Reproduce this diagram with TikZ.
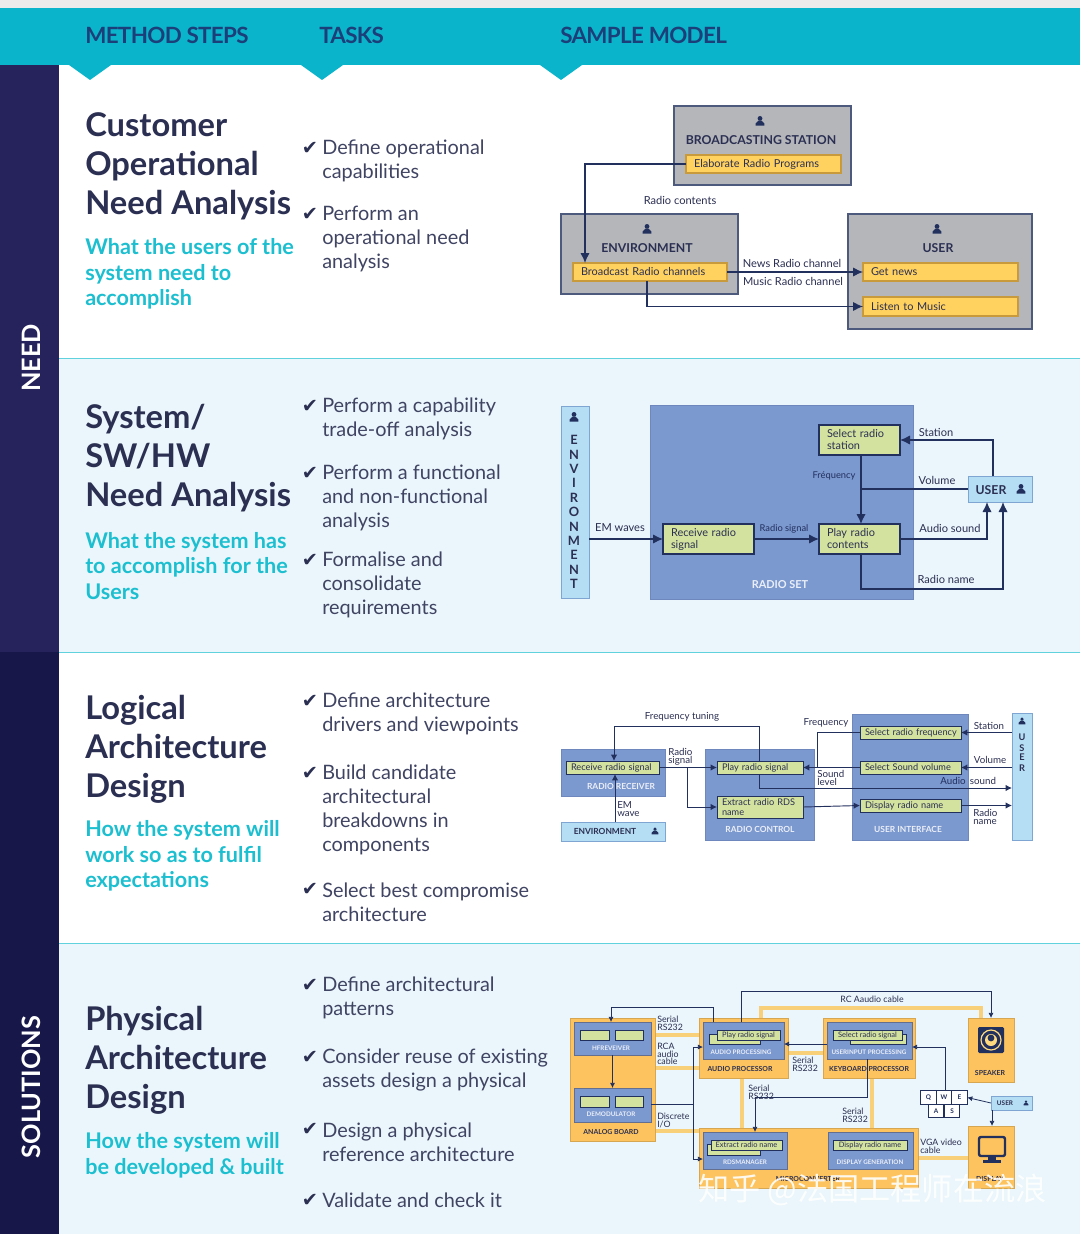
\documentclass[tikz,border=0pt]{standalone}
\usepackage{fontspec}
\setmainfont{Lato}
\newfontfamily\checkfont{DejaVu Sans}
\newfontfamily\cjkfont{Noto Sans CJK SC}
\newfontfamily\headfont[LetterSpace=-3]{Lato}
\usetikzlibrary{positioning, arrows.meta}

\definecolor{teal1}{HTML}{0AB5CC}
\definecolor{teal2}{HTML}{1CBFD0}
\definecolor{rowblue}{HTML}{EAF6FB}
\definecolor{needbar}{HTML}{26235C}
\definecolor{solbar}{HTML}{17174A}
\definecolor{navy}{HTML}{22305E}
\definecolor{inktext}{HTML}{2B2F52}
\definecolor{headtext}{HTML}{1C3F7A}
\definecolor{actorgrey}{HTML}{B4B6BA}
\definecolor{funcyellow}{HTML}{FFD15F}
\definecolor{funcedge}{HTML}{C99A3C}
\definecolor{funcgreen}{HTML}{D3E29E}
\definecolor{compblue}{HTML}{7B98CF}
\definecolor{actorblue}{HTML}{B5DDF3}
\definecolor{actoredge}{HTML}{7FA6D2}
\definecolor{boardorange}{HTML}{FCC35F}
\definecolor{cablelight}{HTML}{F9D07A}

\tikzset{
  wh/.style 2 args={minimum width=#1*0.75pt, minimum height=#2*0.75pt},
  tw/.style 2 args={text width=(#1-16)*0.75pt, minimum height=#2*0.75pt, inner xsep=8*0.75pt},
  tws/.style 2 args={text width=(#1-10)*0.75pt, minimum height=#2*0.75pt, inner xsep=5*0.75pt},
  box/.style={inner sep=0pt, outer sep=0pt, align=left},
  actor/.style={box, draw=navy!80!white, fill=actorgrey, line width=.8pt},
  yfunc/.style={box, draw=funcedge, fill=funcyellow, line width=.8pt, text=inktext, font=\fontsize{8.2}{9}\selectfont},
  gfunc/.style={box, draw=navy, fill=funcgreen, line width=.8pt, text=inktext, font=\fontsize{8.2}{9}\selectfont},
  gsmall/.style={gfunc, line width=.6pt, font=\fontsize{6.9}{7}\selectfont},
  gtiny/.style={gfunc, line width=.6pt, align=center, font=\fontsize{5.6}{6}\selectfont},
  comp/.style={box, draw=compblue!85!navy, fill=compblue, line width=.5pt},
  envact/.style={box, draw=actoredge, fill=actorblue, line width=.7pt},
  board/.style={box, draw=boardorange!85!black, fill=boardorange, line width=.5pt},
  keycap/.style={box, draw=navy, fill=white, line width=.5pt, align=center, wh={15.5}{13.5}, text=navy, font=\fontsize{4.8}{5}\selectfont\bfseries},
  title/.style={text=inktext, font=\fontsize{9.2}{10}\selectfont\bfseries, inner sep=0pt},
  whitecap/.style={text=white, font=\fontsize{6.3}{7}\selectfont\bfseries, inner sep=0pt, opacity=.85},
  tinycap/.style={text=white, font=\fontsize{4.7}{5}\selectfont\bfseries, inner sep=0pt, opacity=.85},
  darkcap/.style={text=inktext, font=\fontsize{5.2}{5.5}\selectfont\bfseries, inner sep=0pt},
  lab/.style={text=inktext, align=left, inner sep=0pt, font=\fontsize{8.3}{9}\selectfont},
  labs/.style={text=inktext, align=left, inner sep=0pt, font=\fontsize{7.3}{5.6}\selectfont},
  labt/.style={text=inktext, align=left, inner sep=0pt, font=\fontsize{6.6}{5.8}\selectfont},
  flow/.style={navy, line width=.9pt, -{Latex[length=7.5pt,width=7pt]}},
  plain/.style={navy, line width=.9pt},
  flowt/.style={navy, line width=.7pt, -{Latex[length=4.8pt,width=4.8pt]}},
  plaint/.style={navy, line width=.7pt},
  flowi/.style={navy, line width=.6pt, -{Latex[length=3.8pt,width=3.8pt]}},
  cable/.style={cablelight, line width=2.4pt},
  person/.pic={
    \fill[navy] (0,-2.6) circle (2.4);
    \fill[navy] (-4.4,4.6) -- (-4.4,2.6) .. controls (-4.4,1) and (-1.6,1) .. (-1.4,-.4)
      -- (1.4,-.4) .. controls (1.6,1) and (4.4,1) .. (4.4,2.6) -- (4.4,4.6) -- cycle;
  },
  smallperson/.pic={
    \fill[navy] (0,-1.8) circle (1.6);
    \fill[navy] (-3,3) -- (-3,1.6) .. controls (-3,.6) and (-1,.6) .. (-1,-.4)
      -- (1,-.4) .. controls (1,.6) and (3,.6) .. (3,1.6) -- (3,3) -- cycle;
  }
}

\begin{document}
\begin{tikzpicture}[x=0.75pt,y=-0.75pt]
\useasboundingbox (0,0) rectangle (1080,1234);

% draw page bands
\fill[white] (0,0) rectangle (1080,1234);
\fill[rowblue] (59,358) rectangle (1080,652);
\fill[rowblue] (59,943) rectangle (1080,1234);
\foreach \y in {358,652,943}
\draw[teal2!70!white, line width=.7pt] (59,\y) -- (1080,\y);
\fill[needbar] (0,65) rectangle (59,652);
\fill[solbar] (0,652) rectangle (59,1234);
\node[rotate=90, text=white, font=\fontsize{19}{20}\selectfont\bfseries] (need) at (31,358) {NEED};
\node[rotate=90, text=white, font=\fontsize{19}{20}\selectfont\bfseries] (solutions) at (31,1087) {SOLUTIONS};

% draw header
\fill[black!8] (0,0) rectangle (1080,8);
\fill[teal1] (0,8) rectangle (1080,65);
\foreach \x in {90,322,561}
\fill[teal1] (\x-21,65) -- (\x+21,65) -- (\x,80) -- cycle;
\foreach \x/\descr in {85/METHOD STEPS,319/TASKS,560/SAMPLE MODEL}
\node[anchor=west, inner sep=0pt, text=headtext, font=\headfont\fontsize{16.8}{18}\selectfont\bfseries] (head\x) at (\x,35) {\descr};

% draw method steps
\foreach \n/\y/\descr in {a/166/{Customer\\Operational\\Need Analysis},
                          b/458/{System/\\SW/HW\\Need Analysis},
                          c/749/{Logical\\Architecture\\Design},
                          d/1060/{Physical\\Architecture\\Design}}
\node[anchor=west, align=left, inner sep=0pt, text=inktext, font=\fontsize{24.5}{29.3}\selectfont\bfseries] (step\n) at (85,\y) {\descr};

\foreach \n/\y/\descr in {a/274/{What the users of the\\system need to\\accomplish},
                          b/566/{What the system has\\to accomplish for the\\Users},
                          c/856/{How the system will\\work so as to fulfil\\expectations},
                          d/1155/{How the system will\\be developed \& built}}
\node[anchor=west, align=left, inner sep=0pt, text=teal2, font=\fontsize{16.2}{19.2}\selectfont\bfseries] (goal\n) at (85,\y) {\descr};

% draw tasks
\foreach \n/\y/\descr in {a/161/{Define operational\\capabilities},
                          b/239/{Perform an\\operational need\\analysis},
                          c/419/{Perform a capability\\trade-off analysis},
                          d/498/{Perform a functional\\and non-functional\\analysis},
                          e/585/{Formalise and\\consolidate\\requirements},
                          f/714/{Define architecture\\drivers and viewpoints},
                          g/810/{Build candidate\\architectural\\breakdowns in\\components},
                          h/902/{Select best compromise\\architecture},
                          i/998/{Define architectural\\patterns},
                          j/1070/{Consider reuse of existing\\assets design a physical},
                          k/1142/{Design a physical\\reference architecture},
                          l/1200/{Validate and check it}}
\node[anchor=west, align=left, inner sep=0pt, text=inktext!90!white, font=\fontsize{14.9}{18}\selectfont] (task\n) at (322,\y) {\descr};

\foreach \n/\y in {a/148,b/214,c/406,d/473,e/560,f/701,g/773,h/889,i/985,j/1057,k/1129,l/1200}
\node[text=inktext, font=\checkfont\fontsize{14.5}{15}\selectfont, inner sep=0pt] (check\n) at (310,\y) {✔};

% draw customer operational model
\node[actor, wh={177}{79}] (station) at (762.5,145.5) {};
\node[actor, wh={177}{80}] (envA) at (649.5,254) {};
\node[actor, wh={184}{115}] (userA) at (940,271.5) {};
\node[yfunc, tw={155}{18}] (elaborate) at (763.5,164) {Elaborate Radio Programs};
\node[yfunc, tw={154}{18}] (broadcast) at (650,272) {Broadcast Radio channels};
\node[yfunc, tw={155}{18}] (getnews) at (940.5,272) {Get news};
\node[yfunc, tw={155}{19}] (listen) at (940.5,306.5) {Listen to Music};
\node[title] (stationname) at (761,140) {BROADCASTING STATION};
\node[title] (envAname) at (647,248) {ENVIRONMENT};
\node[title] (userAname) at (938,248) {USER};
\pic at (760,121) {person};
\pic at (647,229) {person};
\pic at (937,229) {person};
\coordinate (intoenv) at (585,263);
\coordinate (broadfoot) at (647,281);
\draw[flow] (elaborate.west) -| (intoenv);
\draw[flow] (broadcast.east) -- (getnews.west);
\draw[flow] (broadfoot) |- (listen.west);
\node[lab] (contents) at (680,200) {Radio contents};
\node[lab] (news) at (792,263) {News Radio channel};
\node[lab] (music) at (793,281) {Music Radio channel};

% draw system need model
\node[comp, wh={263}{194}] (radioset) at (781.5,502) {};
\node[envact, wh={28}{192}] (envB) at (575,502) {};
\node[envact, wh={64}{26}] (userB) at (1000,489) {};
\node[gfunc, tw={81}{30}] (selectB) at (859.5,440) {Select radio\\station};
\node[gfunc, tw={91}{30}] (receiveB) at (708.5,539) {Receive radio\\signal};
\node[gfunc, tw={81}{30}] (playB) at (859.5,539) {Play radio\\contents};
\pic at (574,417) {person};
\foreach \i/\c in {0/E,1/N,2/V,3/I,4/R,5/O,6/N,7/M,8/E,9/N,10/T}
\node[title, font=\fontsize{9.6}{10}\selectfont\bfseries] (envB\i) at (574,440+\i*14.4) {\c};
\node[title] (userBname) at (991,490) {USER};
\pic at (1021,489) {person};
\coordinate (envport) at (589,539);
\coordinate (audioin) at (987,502);
\coordinate (namein) at (1003,502);
\coordinate (stationout) at (993,476);
\coordinate (stationin) at (900,440);
\coordinate (namelow) at (861,589);
\coordinate (volumejoin) at (861,489);
\coordinate (selectfoot) at (861,455);
\coordinate (playtop) at (861,524);
\coordinate (playfoot) at (861,554);
\draw[flow] (envport) -- (receiveB.west);
\draw[flow] (receiveB.east) -- (playB.west);
\draw[flow] (selectfoot) -- (playtop);
\draw[plain] (userB.west) -- (volumejoin);
\draw[flow] (stationout) |- (stationin);
\draw[flow] (playB.east) -| (audioin);
\draw[flow] (playfoot) |- (namelow) -| (namein);
\node[lab] (emwaves) at (620,528) {EM waves};
\node[lab, font=\fontsize{7}{8}\selectfont, text=navy] (radiosignal) at (784,529) {Radio signal};
\node[lab, font=\fontsize{7}{8}\selectfont, text=navy] (frequency) at (834,476) {Fréquency};
\node[lab] (stationlab) at (936,432) {Station};
\node[lab] (volumelab) at (937,480) {Volume};
\node[lab] (audiolab) at (950,528) {Audio sound};
\node[lab] (namelab) at (946,579) {Radio name};
\node[whitecap, font=\fontsize{8.2}{9}\selectfont\bfseries] (radiosetname) at (780,585) {RADIO SET};

% draw logical architecture model
\node[comp, wh={104}{47}] (receiverC) at (613,772.5) {};
\node[comp, wh={109}{91}] (controlC) at (759.5,794.5) {};
\node[comp, wh={116}{126}] (uiC) at (910,777) {};
\node[envact, wh={104}{19}] (envC) at (613,831.5) {};
\node[envact, wh={20}{127}] (userC) at (1022,776.5) {};
\node[gsmall, tws={93}{13}] (recvC) at (612.5,767.5) {Receive radio signal};
\node[gsmall, tws={86}{13}] (playC) at (760,767.5) {Play radio signal};
\node[gsmall, tws={86}{22}] (extractC) at (760,807) {Extract radio RDS\\name};
\node[gsmall, tws={101}{13}] (freqC) at (910.5,732.5) {\mbox{Select radio frequency}};
\node[gsmall, tws={101}{13}] (soundC) at (910.5,767.5) {Select Sound volume};
\node[gsmall, tws={101}{13}] (displayC) at (910.5,805.5) {Display radio name};
\node[whitecap] (receivername) at (621,786) {RADIO RECEIVER};
\node[whitecap] (controlname) at (760,829) {RADIO CONTROL};
\node[whitecap] (uiname) at (908,829) {USER INTERFACE};
\node[title, font=\fontsize{6.3}{7}\selectfont\bfseries] (envCname) at (605,831) {ENVIRONMENT};
\pic[scale=1.1] at (655,831) {smallperson};
\pic[scale=1.1] at (1022,721) {smallperson};
\foreach \c/\y in {U/737,S/748,E/757,R/768}
\node[title, font=\fontsize{6.9}{7}\selectfont\bfseries] (userC\c) at (1022,\y) {\c};
\coordinate (tuningup) at (759,726);
\coordinate (tuningin) at (614,761);
\coordinate (emfoot) at (615,822);
\coordinate (eminto) at (615,774);
\coordinate (branch) at (687,767.5);
\coordinate (freqdown) at (817,767.5);
\coordinate (audioout) at (1012,788);
\coordinate (audiofoot) at (759,774);
\coordinate (userfreq) at (1012,732.5);
\coordinate (usersound) at (1012,767.5);
\coordinate (usershow) at (1012,805.5);
\draw[flowt] (emfoot) -- (eminto);
\draw[flowt] (recvC.east) -- (playC.west);
\draw[flowt] (branch) |- (extractC.west);
\draw[flowt] (audiofoot) |- (audioout);
\draw[flowt] (tuningup |- playC.north) |- (tuningup) -| (tuningin);
\draw[flowt] (soundC.west) -- (playC.east);
\draw[plaint] (freqC.west) -| (freqdown);
\draw[flowt] (extractC.east) -- (displayC.west);
\draw[flowt] (userfreq) -- (freqC.east);
\draw[flowt] (usersound) -- (soundC.east);
\draw[flowt] (displayC.east) -- (usershow);
\node[labs] (tuninglab) at (682,717) {Frequency tuning};
\node[labs, anchor=west] (rsignallab) at (668,757) {Radio\\signal};
\node[labs, anchor=west] (wavelab) at (617,809) {EM\\wave};
\node[labs] (freqlab) at (826,723) {Frequency};
\node[labs, anchor=west] (levellab) at (817,778) {Sound\\level};
\node[labs] (stationlabC) at (989,726) {Station};
\node[labs] (volumelabC) at (990,760) {Volume};
\node[labs, text=navy] (audiolabC) at (953,781) {Audio};
\node[labs] (soundlabC) at (983,781) {sound};
\node[labs, anchor=west] (namelabC) at (973,817) {Radio\\name};

% draw physical cables
\coordinate (yspeaker) at (981,1018);
\coordinate (ytop) at (761,1018);
\draw[cable] (ytop) |- (761,1008) -| (yspeaker);
\draw[cable] (655,1035) -- (699,1035);
\draw[cable] (655,1068) -- (699,1068);
\draw[cable] (655,1131) -- (699,1131);
\draw[cable] (742,1078) -- (742,1128);
\draw[cable] (788,1053) -- (823,1053);
\draw[cable] (872,1078) -- (872,1128);
\draw[cable] (918,1158) -- (968,1158);

% draw physical architecture model
\node[board, wh={85}{123}] (analog) at (612.5,1079.5) {};
\node[board, wh={89}{60}] (audio) at (743.5,1048) {};
\node[board, wh={92}{60}] (kbd) at (869,1048) {};
\node[board, wh={219}{60}] (micro) at (808.5,1158) {};
\node[board, wh={46}{64}] (speaker) at (991,1050) {};
\node[board, wh={46}{62}] (screen) at (991,1157) {};
\node[comp, wh={77}{33}, draw=navy!70] (hf) at (612.5,1038.5) {};
\node[comp, wh={77}{34}, draw=navy!70] (demod) at (612.5,1105) {};
\node[comp, wh={81}{37}, draw=navy!70] (audiop) at (743.5,1040.5) {};
\node[comp, wh={84}{37}, draw=navy!70] (rds) at (745,1150.5) {};
\node[comp, wh={85}{37}, draw=navy!70] (gen) at (870.5,1150.5) {};
\node[comp, wh={85}{37}, draw=navy!70] (input) at (869.5,1040.5) {};
\foreach \n/\x/\y/\w/\h in {hfa/594.5/1035/29/10, hfb/629/1035/28/10, dma/594.5/1101.5/29/11, dmb/629/1101.5/28/11,
                            playback/734.5/1039/51/10, extractback/733.5/1149.5/53/11, selback/878/1039/56/10}
\node[gtiny, wh={\w}{\h}] (\n) at (\x,\y) {};
\node[gtiny, wh={63}{10}] (playD) at (748.5,1035) {Play radio signal};
\node[gtiny, wh={71}{10}] (extractD) at (746.5,1145) {Extract radio name};
\node[gtiny, wh={74}{10}] (dispD) at (870,1145) {Display radio name};
\node[gtiny, wh={69}{10}] (selD) at (867.5,1035) {Select radio signal};
\foreach \n/\x/\y/\descr in {hfname/611/1048/HFREVEIVER, demodname/611/1114/DEMODULATOR, audiopname/741/1052/AUDIO PROCESSING,
                             rdsname/745/1162/RDSMANAGER, genname/870/1162/DISPLAY GENERATION, inputname/869/1052/USERINPUT PROCESSING}
\node[tinycap] (\n) at (\x,\y) {\descr};
\foreach \n/\x/\y/\descr in {analogname/611/1132/ANALOG BOARD, audioname/740/1069/AUDIO PROCESSOR, kbdname/869/1069/KEYBOARD PROCESSOR,
                             microname/808/1179/MICROCONVERTER, speakername/990/1073/SPEAKER, screenname/990/1179/DISPLAY}
\node[darkcap] (\n) at (\x,\y) {\descr};

% draw speaker and monitor icons
\fill[navy, rounded corners=1pt] (978,1027) rectangle (1004,1053);
\draw[funcyellow!80!white, line width=.9pt] (991,1040) circle (10);
\fill[funcyellow!80!white] (991,1040) circle (6);
\fill[navy] (991,1038) circle (3.4);
\draw[navy, line width=1.8pt, rounded corners=1.5pt, fill=boardorange] (979,1137) rectangle (1005,1156);
\fill[navy] (988,1156) rectangle (996,1160);
\fill[navy] (983,1160) rectangle (1001,1162.5);

% draw keyboard and physical user
\foreach \c/\x/\y in {Q/928.5/1097.5, W/944/1097.5, E/959.5/1097.5, A/936/1111, S/952/1111}
\node[keycap] (key\c) at (\x,\y) {\c};
\node[envact, wh={41}{14}] (userD) at (1011.5,1103) {};
\node[title, font=\fontsize{4.8}{5}\selectfont\bfseries] (userDname) at (1005,1103) {USER};
\pic[scale=.8] at (1026,1103) {smallperson};

% draw physical connectors
\coordinate (audiotop) at (741,1022);
\coordinate (overspeaker) at (991,991);
\coordinate (hftopstart) at (713,1022);
\coordinate (hfinto) at (611,1022);
\coordinate (demodturn) at (693,1104);
\coordinate (intoaudio) at (703,1047);
\coordinate (intords) at (703,1159);
\coordinate (rdsdrop) at (755,1132);
\coordinate (inputlow) at (867,1059);
\coordinate (kbdwire) at (945,1091);
\coordinate (inputport) at (912,1047);
\coordinate (audioport) at (784,1044);
\coordinate (inputwest) at (827,1044);
\coordinate (screendrop) at (992,1126);
\draw[flowi] (audiotop) |- (overspeaker) -- (speaker.north);
\draw[flowi] (hftopstart) |- (611,1007) -- (hfinto);
\draw[flowi] (hf.south) -- (demod.north);
\draw[plaint, line width=.6pt] (demod.east |- demodturn) -- (demodturn);
\draw[flowi] (demodturn) |- (intoaudio);
\draw[flowi] (demodturn) |- (intords);
\draw[flowi] (inputlow) |- (755,1097) -- (rdsdrop);
\draw[flowi] (inputwest) -- (audioport);
\draw[flowi] (kbdwire) |- (inputport);
\draw[flowi] (userD.west) -- (keyE.east);
\draw[flowi] (992,1110) -- (screendrop);

% draw physical labels
\node[labt, anchor=west] (seriala) at (657,1023.5) {Serial\\RS232};
\node[labt, anchor=west] (rca) at (657,1054) {RCA\\audio\\cable};
\node[labt, anchor=west] (discrete) at (657,1120.5) {Discrete\\I/O};
\node[labt, anchor=west] (serialb) at (748,1092) {Serial\\RS232};
\node[labt, anchor=west] (serialc) at (792,1064) {Serial\\RS232};
\node[labt, anchor=west] (seriald) at (842,1115.5) {Serial\\RS232};
\node[labt, anchor=west] (vga) at (920,1146.5) {VGA video\\cable};
\node[labt] (rcatop) at (872,999) {RC Aaudio cable};

% draw watermark
\node[anchor=west, inner sep=0pt, text=white, opacity=.9, font=\cjkfont\fontsize{23.4}{24}\selectfont] (mark) at (698,1190) {知乎 @法国工程师在流浪};
\end{tikzpicture}
\end{document}
